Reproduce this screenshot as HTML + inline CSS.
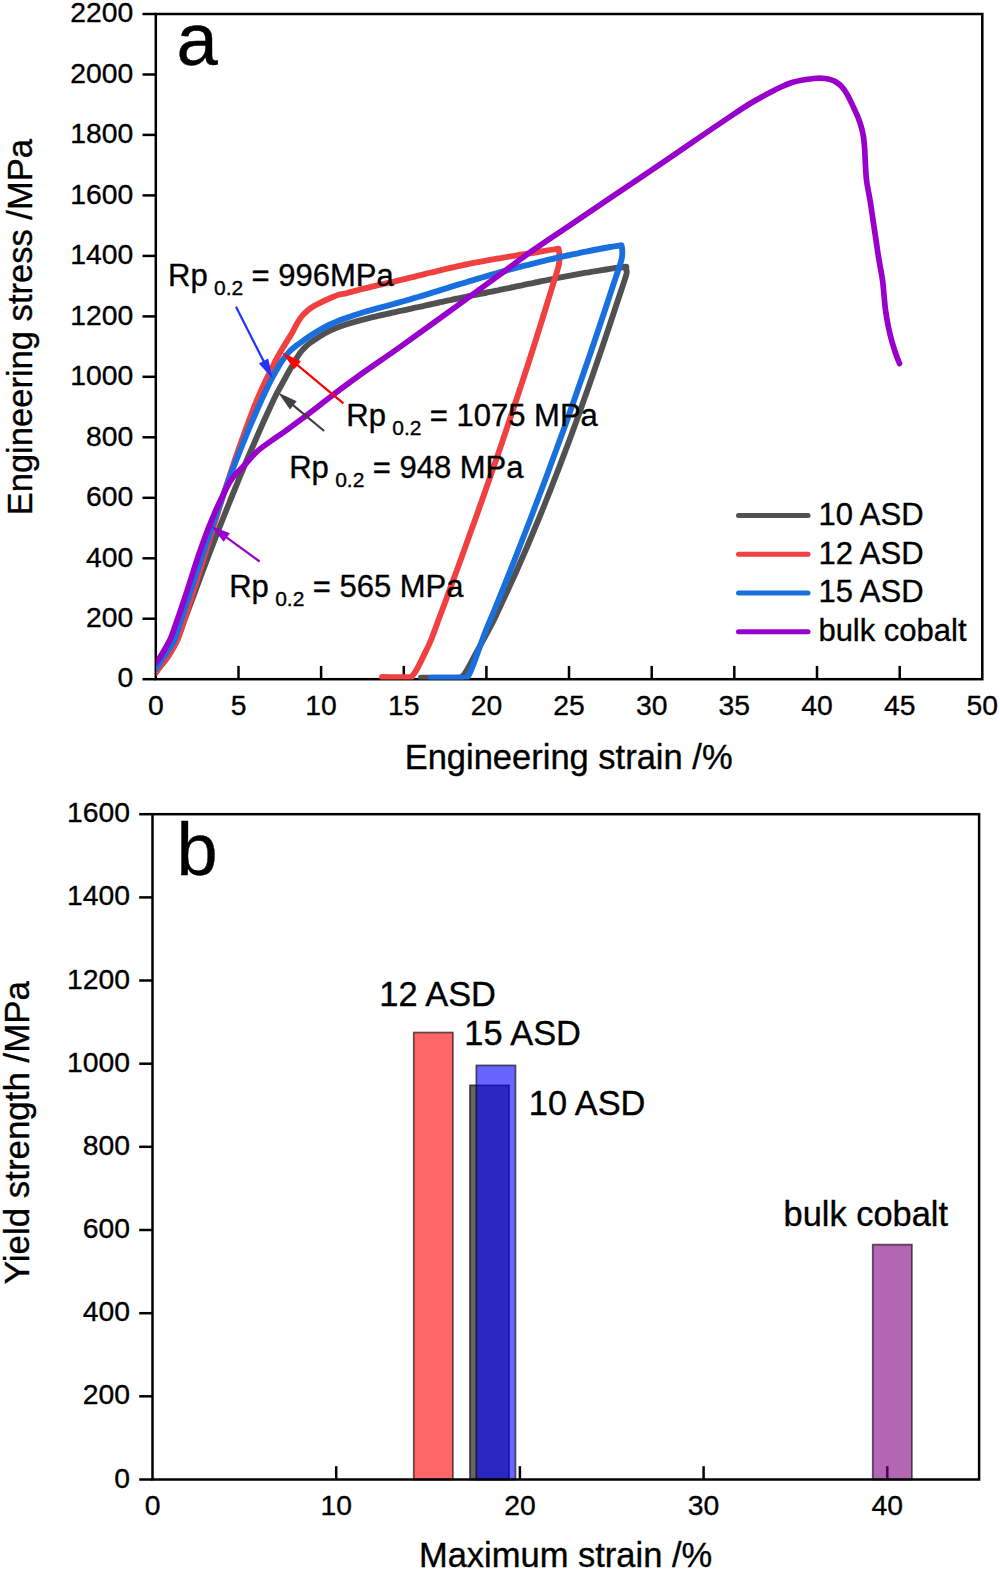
<!DOCTYPE html>
<html lang="en"><head><meta charset="utf-8"><title>Engineering stress-strain curves and yield strength</title>
<style>html,body{margin:0;padding:0;background:#fff}svg{display:block}text{font-family:"Liberation Sans", sans-serif;fill:#000;stroke:#000;stroke-width:0.35px;stroke-linejoin:round}</style>
</head><body>
<svg width="1000" height="1574" viewBox="0 0 1000 1574">
<rect width="1000" height="1574" fill="#fff"/>
<g id="panel-a">
<g stroke="#000" stroke-width="2.5" fill="none" stroke-linecap="butt">
<rect x="155.8" y="14" width="826.5" height="665.2"/>
<line x1="142.5" y1="679.2" x2="155.8" y2="679.2"/>
<line x1="142.5" y1="618.7" x2="155.8" y2="618.7"/>
<line x1="142.5" y1="558.3" x2="155.8" y2="558.3"/>
<line x1="142.5" y1="497.8" x2="155.8" y2="497.8"/>
<line x1="142.5" y1="437.3" x2="155.8" y2="437.3"/>
<line x1="142.5" y1="376.8" x2="155.8" y2="376.8"/>
<line x1="142.5" y1="316.4" x2="155.8" y2="316.4"/>
<line x1="142.5" y1="255.9" x2="155.8" y2="255.9"/>
<line x1="142.5" y1="195.4" x2="155.8" y2="195.4"/>
<line x1="142.5" y1="134.9" x2="155.8" y2="134.9"/>
<line x1="142.5" y1="74.5" x2="155.8" y2="74.5"/>
<line x1="142.5" y1="14" x2="155.8" y2="14"/>
<line x1="238.5" y1="679.2" x2="238.5" y2="665.9"/>
<line x1="321.1" y1="679.2" x2="321.1" y2="665.9"/>
<line x1="403.8" y1="679.2" x2="403.8" y2="665.9"/>
<line x1="486.4" y1="679.2" x2="486.4" y2="665.9"/>
<line x1="569" y1="679.2" x2="569" y2="665.9"/>
<line x1="651.7" y1="679.2" x2="651.7" y2="665.9"/>
<line x1="734.3" y1="679.2" x2="734.3" y2="665.9"/>
<line x1="817" y1="679.2" x2="817" y2="665.9"/>
<line x1="899.7" y1="679.2" x2="899.7" y2="665.9"/>
</g>
<clipPath id="clipA"><rect x="156.4" y="14" width="825.9" height="665.4"/></clipPath>
<g id="curves" clip-path="url(#clipA)">
<path d="M155.5 673 C156.4 671.8 158.9 668.2 161 665.5 C163.1 662.8 165.3 660.8 168 656.5 C170.7 652.2 174.8 645.2 177.2 640 C179.7 634.8 180.9 630 182.7 625 C184.5 620 186.4 615 188.2 610 C190.1 605 191.9 600 193.8 595 C195.6 590 197.5 585 199.4 580 C201.2 575 203.1 570 205 565 C206.9 560 208.8 555 210.7 550 C212.7 545 214.6 540 216.5 535 C218.5 530 220.4 525 222.4 520 C224.4 515 226.4 510 228.4 505 C230.4 500 232.4 495 234.5 490 C236.5 485 238.6 480 240.6 475 C242.7 470 244.8 465 246.9 460 C249.1 455 251.2 450 253.4 445 C255.5 440 257.7 435 259.9 430 C262.1 425 264 420.7 266.6 415 C269.2 409.3 272.9 401.2 275.5 396 C278.1 390.8 279.9 387.8 282 384 C284.1 380.2 286 376.6 288 373 C290 369.4 292.3 365.3 294 362.5 C295.7 359.7 296.7 358 298 356 C299.3 354 300.7 352.1 302 350.5 C303.3 348.9 304.7 347.6 306 346.3 C307.3 345.1 307.7 344.7 310 343 C312.3 341.3 316.7 338.3 320 336.2 C323.3 334.1 327 332.1 330 330.6 C333 329.1 335.3 328.2 338 327.2 C340.7 326.1 343.3 325.3 346 324.5 C348.7 323.6 351.3 322.8 354 322.1 C356.7 321.3 359.3 320.5 362 319.8 C364.7 319.1 367.3 318.5 370 317.8 C372.7 317.2 375.3 316.5 378 315.9 C380.7 315.3 383.3 314.7 386 314.1 C388.7 313.5 391.3 313 394 312.4 C396.7 311.8 399.3 311.2 402 310.7 C404.7 310.1 407.3 309.5 410 308.9 C412.7 308.3 415.3 307.7 418 307.2 C420.7 306.6 423.3 306 426 305.4 C428.7 304.8 431.3 304.2 434 303.6 C436.7 303 439.3 302.5 442 301.9 C444.7 301.3 447.3 300.7 450 300.2 C452.7 299.6 455.3 299 458 298.5 C460.7 297.9 463.3 297.4 466 296.8 C468.7 296.3 471.3 295.7 474 295.2 C476.7 294.7 479.3 294.1 482 293.6 C484.7 293 487.3 292.5 490 291.9 C492.7 291.4 495.3 290.8 498 290.3 C500.7 289.7 503.3 289.2 506 288.6 C508.7 288.1 511.3 287.5 514 287 C516.7 286.4 519.3 285.8 522 285.3 C524.7 284.7 527.3 284.2 530 283.6 C532.7 283.1 535.3 282.5 538 282 C540.7 281.4 543.3 280.9 546 280.4 C548.7 279.8 551.3 279.3 554 278.8 C556.7 278.2 559.3 277.7 562 277.2 C564.7 276.7 567.3 276.2 570 275.7 C572.7 275.2 575.3 274.7 578 274.2 C580.7 273.7 583.3 273.2 586 272.7 C588.7 272.3 591.3 271.8 594 271.4 C596.7 270.9 599.3 270.5 602 270.1 C604.7 269.7 607.3 269.3 610 268.9 C612.7 268.5 615.3 268 618 267.7 C620.7 267.3 624.8 266.9 626.2 266.7 M626.2 266.7 C626.2 267.2 626.3 268.6 626.3 270 C626.3 271.4 627.6 270 626.2 275 C624.8 280 620.7 291.7 618 300 C615.2 308.3 612.5 316.7 609.7 325 C606.9 333.3 604.1 341.7 601.3 350 C598.4 358.3 595.6 366.7 592.7 375 C589.8 383.3 586.9 391.7 583.9 400 C581 408.3 578 416.7 575 425 C571.9 433.3 568.9 441.7 565.7 450 C562.6 458.3 559.5 466.7 556.2 475 C553 483.3 549.7 491.7 546.4 500 C543.1 508.3 539.7 516.7 536.2 525 C532.8 533.3 529.3 541.7 525.7 550 C522.1 558.3 518.4 566.7 514.7 575 C510.9 583.3 507.1 591.7 503.2 600 C499.3 608.3 496.2 615.3 491.3 625 C486.3 634.7 477.5 650.5 473.5 658 C469.5 665.5 468.8 667 467 670 C465.2 673 464 675 462.5 676.3 C461 677.6 464.9 677.4 458 677.6 C451.1 677.8 427.2 677.6 421 677.6" fill="none" stroke="#515151" stroke-width="5.9" stroke-linejoin="round" stroke-linecap="round"/>
<path d="M155.5 673 C156.4 671.8 158.9 668.2 161 665.5 C163.1 662.8 165.3 660.8 168 656.5 C170.7 652.2 174.9 645.2 177.3 640 C179.7 634.8 180.8 630 182.4 625 C184.1 620 185.7 615 187.4 610 C189 605 190.6 600 192.2 595 C193.8 590 195.3 585 196.9 580 C198.5 575 200 570 201.6 565 C203.1 560 204.7 555 206.2 550 C207.8 545 209.3 540 210.8 535 C212.4 530 213.9 525 215.5 520 C217.1 515 218.6 510 220.2 505 C221.8 500 223.4 495 225 490 C226.6 485 228.2 480 229.9 475 C231.6 470 233.2 465 234.9 460 C236.6 455 238.4 450 240.1 445 C241.9 440 243.7 435 245.5 430 C247.3 425 249.2 420 251.1 415 C253 410 254.7 405.5 257 400 C259.3 394.5 262.7 387 265 382 C267.3 377 269 374 271 370 C273 366 274.8 362 277 358 C279.2 354 281.5 350.2 284 346 C286.5 341.8 289.8 336.8 292 333 C294.2 329.2 295.3 326.3 297 323.5 C298.7 320.7 300.2 318.2 302 316 C303.8 313.8 306 311.9 308 310.2 C310 308.5 312 307.2 314 306 C316 304.8 317.3 304.1 320 302.8 C322.7 301.5 327 299.6 330 298.3 C333 297 335.3 295.8 338 295 C340.7 294.2 343.3 293.9 346 293.3 C348.7 292.6 351.3 291.8 354 291.1 C356.7 290.4 359.3 289.7 362 289 C364.7 288.4 367.3 287.7 370 287.1 C372.7 286.5 375.3 285.8 378 285.2 C380.7 284.6 383.3 284 386 283.4 C388.7 282.8 391.3 282.2 394 281.6 C396.7 280.9 399.3 280.3 402 279.6 C404.7 279 407.3 278.4 410 277.7 C412.7 277.1 415.3 276.4 418 275.7 C420.7 275.1 423.3 274.4 426 273.7 C428.7 273.1 431.3 272.4 434 271.8 C436.7 271.1 439.3 270.5 442 269.8 C444.7 269.2 447.3 268.6 450 268 C452.7 267.4 455.3 266.8 458 266.2 C460.7 265.6 463.3 265.1 466 264.5 C468.7 264 471.3 263.4 474 262.9 C476.7 262.4 479.3 261.9 482 261.4 C484.7 260.9 487.3 260.4 490 259.9 C492.7 259.5 495.3 259 498 258.5 C500.7 258.1 503.3 257.6 506 257.2 C508.7 256.7 511.3 256.3 514 255.9 C516.7 255.4 519.3 255 522 254.5 C524.7 254.1 527.3 253.7 530 253.3 C532.7 252.8 535.3 252.4 538 252 C540.7 251.5 543.3 251.1 546 250.7 C548.7 250.2 551.9 249.7 554 249.4 C556.1 249 557.8 248.7 558.6 248.6 M558.6 248.6 C558.7 249.5 559.3 251.3 559.3 254 C559.3 256.7 560.1 259 558.8 265 C557.4 271 553.8 281.7 551.3 290 C548.8 298.3 546.2 306.7 543.6 315 C541 323.3 538.4 331.7 535.8 340 C533.1 348.3 530.5 356.7 527.8 365 C525.1 373.3 522.4 381.7 519.6 390 C516.9 398.3 514.1 406.7 511.3 415 C508.5 423.3 505.7 431.7 502.9 440 C500.1 448.3 497.2 456.7 494.3 465 C491.4 473.3 488.5 481.7 485.6 490 C482.7 498.3 479.7 506.7 476.8 515 C473.8 523.3 470.8 531.7 467.8 540 C464.8 548.3 461.8 556.7 458.8 565 C455.7 573.3 452.7 581.7 449.6 590 C446.5 598.3 443.5 606.7 440.3 615 C437.2 623.3 433.7 633.3 431 640 C428.3 646.7 426.3 650.2 424 655 C421.7 659.8 419.2 665.1 417.3 668.5 C415.4 671.9 414.2 673.8 412.8 675.3 C411.4 676.8 414.1 676.9 409 677.2 C403.9 677.5 386.5 677 382 677" fill="none" stroke="#F14040" stroke-width="5.9" stroke-linejoin="round" stroke-linecap="round"/>
<path d="M155.5 669.5 C156.2 668.3 158.2 665.2 160 662.5 C161.8 659.8 163.6 657.2 166 653.5 C168.4 649.8 172.1 644.8 174.3 640 C176.5 635.2 177.7 630 179.3 625 C181 620 182.7 615 184.3 610 C186 605 187.6 600 189.3 595 C190.9 590 192.6 585 194.2 580 C195.9 575 197.5 570 199.2 565 C200.8 560 202.5 555 204.2 550 C205.9 545 207.5 540 209.3 535 C211 530 212.7 525 214.4 520 C216.1 515 217.9 510 219.7 505 C221.4 500 223.2 495 225.1 490 C226.9 485 228.7 480 230.6 475 C232.5 470 234.4 465 236.3 460 C238.3 455 240.3 450 242.3 445 C244.3 440 246.3 435 248.4 430 C250.5 425 252.7 420 254.9 415 C257 410 259 405.5 261.5 400 C264.1 394.5 267.6 386.8 270 382 C272.4 377.2 274 374.5 276 371 C278 367.5 279.7 364.3 282 361 C284.3 357.7 287 354 290 351 C293 348 296.7 345.5 300 343 C303.3 340.5 306.7 338.2 310 336 C313.3 333.8 316.7 331.7 320 329.8 C323.3 327.9 327 326 330 324.5 C333 323 335.3 322 338 321 C340.7 319.9 343.3 319 346 318.1 C348.7 317.1 351.3 316.2 354 315.3 C356.7 314.4 359.3 313.6 362 312.7 C364.7 311.9 367.3 311.1 370 310.4 C372.7 309.6 375.3 308.9 378 308.2 C380.7 307.5 383.3 306.8 386 306.1 C388.7 305.3 391.3 304.6 394 303.9 C396.7 303.1 399.3 302.4 402 301.7 C404.7 300.9 407.3 300.1 410 299.4 C412.7 298.6 415.3 297.8 418 297 C420.7 296.2 423.3 295.4 426 294.6 C428.7 293.8 431.3 292.9 434 292.1 C436.7 291.3 439.3 290.5 442 289.6 C444.7 288.8 447.3 288 450 287.1 C452.7 286.3 455.3 285.5 458 284.7 C460.7 283.9 463.3 283.1 466 282.3 C468.7 281.4 471.3 280.6 474 279.8 C476.7 279 479.3 278.3 482 277.5 C484.7 276.7 487.3 275.9 490 275.1 C492.7 274.4 495.3 273.6 498 272.8 C500.7 272.1 503.3 271.3 506 270.6 C508.7 269.9 511.3 269.1 514 268.4 C516.7 267.7 519.3 267 522 266.3 C524.7 265.6 527.3 264.9 530 264.3 C532.7 263.6 535.3 263 538 262.3 C540.7 261.7 543.3 261 546 260.4 C548.7 259.8 551.3 259.1 554 258.5 C556.7 257.9 559.3 257.3 562 256.7 C564.7 256.1 567.3 255.5 570 255 C572.7 254.4 575.3 253.8 578 253.3 C580.7 252.7 583.3 252.2 586 251.6 C588.7 251.1 591.3 250.6 594 250 C596.7 249.5 599.3 249 602 248.5 C604.7 248 606.8 247.6 610 247 C613.2 246.4 619.5 245.5 621.4 245.2 M621.4 245.2 C621.5 246 622.2 247.5 622.2 250 C622.2 252.5 622.8 254.2 621.4 260 C619.9 265.8 616 276.7 613.2 285 C610.5 293.3 607.8 301.7 605 310 C602.2 318.3 599.4 326.7 596.6 335 C593.8 343.3 591 351.7 588.1 360 C585.2 368.3 582.3 376.7 579.4 385 C576.5 393.3 573.6 401.7 570.6 410 C567.7 418.3 564.7 426.7 561.7 435 C558.6 443.3 555.6 451.7 552.5 460 C549.5 468.3 546.4 476.7 543.3 485 C540.1 493.3 537 501.7 533.8 510 C530.7 518.3 527.5 526.7 524.2 535 C521 543.3 517.7 551.7 514.5 560 C511.2 568.3 507.9 576.7 504.5 585 C501.2 593.3 497.8 601.7 494.4 610 C491 618.3 487.9 625.3 484.1 635 C480.4 644.7 474.9 660.9 472 668 C469.1 675.1 468.8 676 467 677.6 C465.2 679.2 467 677.8 461 677.8 C455 677.8 436 677.8 431 677.8" fill="none" stroke="#1A6FDF" stroke-width="5.9" stroke-linejoin="round" stroke-linecap="round"/>
<path d="M155.5 663.5 C156.2 662.6 157.1 661.9 159.5 658 C161.9 654.1 167.2 645.3 169.8 640 C172.4 634.7 173.4 630.7 175.1 626 C176.8 621.3 178.4 616.7 180 612 C181.6 607.3 183.1 602.7 184.7 598 C186.2 593.3 187.7 588.7 189.2 584 C190.7 579.3 192.2 574.7 193.7 570 C195.2 565.3 196.7 560.7 198.3 556 C199.9 551.3 201.5 546.7 203.2 542 C204.9 537.3 206.6 532.7 208.4 528 C210.3 523.3 212.2 518.7 214.2 514 C216.2 509.3 217.7 505.7 220.6 500 C223.4 494.3 227.4 485.3 231.3 479.6 C235.2 473.9 239.7 470.3 244 465.6 C248.3 460.9 252.7 455.5 257.2 451.4 C261.7 447.3 266.3 444.4 271 441 C275.7 437.6 280.3 434.7 285.5 431 C290.7 427.3 296.2 423 302 418.7 C307.8 414.4 315.3 408.6 320 405 C324.7 401.4 323.7 402 330 397.2 C336.3 392.4 346.3 384.8 358 376.4 C369.7 368 384.7 357.9 400 347 C415.3 336.1 433.3 323.1 450 311 C466.7 298.9 486.5 284.4 500 274.5 C513.5 264.6 519 260.1 531 251.7 C543 243.2 557.2 233.9 572 223.8 C586.8 213.7 603.7 202.3 620 191.3 C636.3 180.3 656.7 166.7 670 157.6 C683.3 148.5 689.6 144.1 700 137 C710.4 129.9 724 120.7 732.5 115 C741 109.3 744.8 106.8 751 103 C757.2 99.2 765 95.2 770 92.5 C775 89.8 777.3 88.7 781 87 C784.7 85.3 788.3 83.7 792 82.5 C795.7 81.3 799.3 80.7 803 80 C806.7 79.3 811.2 78.8 814 78.5 C816.8 78.2 817.7 78.2 819.5 78.2 C821.3 78.2 823.2 78.3 825 78.5 C826.8 78.7 828.7 79 830.5 79.6 C832.3 80.2 834.2 80.9 836 82 C837.8 83.1 839.7 84.4 841.5 86.4 C843.3 88.4 845.2 91 847 94.1 C848.8 97.2 850.7 101.2 852.5 105.1 C854.3 108.9 856.5 113.5 858 117.2 C859.5 120.9 860.4 123.8 861.3 127.1 C862.2 130.4 863 133.5 863.5 137 C864 140.5 864.3 144.2 864.6 148 C864.9 151.8 864.9 154.7 865.2 160 C865.5 165.3 865.7 173.3 866.5 180 C867.3 186.7 868.9 193.3 870 200 C871.1 206.7 872 213.3 873 220 C874 226.7 875 233.3 876 240 C877 246.7 877.9 253.3 879 260 C880.1 266.7 881.7 274.2 882.5 280 C883.3 285.8 883.5 290 884 295 C884.5 300 884.8 305 885.5 310 C886.2 315 887 320 888 325 C889 330 890.2 335.3 891.5 340 C892.8 344.7 894.2 349.1 895.5 353 C896.8 356.9 898.8 361.8 899.5 363.5" fill="none" stroke="#9900CC" stroke-width="5.7" stroke-linejoin="round" stroke-linecap="round"/>
</g>
<g font-size="28.3" text-anchor="end">
<text x="133.3" y="687.4">0</text>
<text x="133.3" y="626.9">200</text>
<text x="133.3" y="566.5">400</text>
<text x="133.3" y="506">600</text>
<text x="133.3" y="445.5">800</text>
<text x="133.3" y="385">1000</text>
<text x="133.3" y="324.6">1200</text>
<text x="133.3" y="264.1">1400</text>
<text x="133.3" y="203.6">1600</text>
<text x="133.3" y="143.1">1800</text>
<text x="133.3" y="82.7">2000</text>
<text x="133.3" y="22.2">2200</text>
</g>
<g font-size="28.3" text-anchor="middle">
<text x="155.8" y="715.2">0</text>
<text x="238.5" y="715.2">5</text>
<text x="321.1" y="715.2">10</text>
<text x="403.8" y="715.2">15</text>
<text x="486.4" y="715.2">20</text>
<text x="569" y="715.2">25</text>
<text x="651.7" y="715.2">30</text>
<text x="734.3" y="715.2">35</text>
<text x="817" y="715.2">40</text>
<text x="899.7" y="715.2">45</text>
<text x="982.3" y="715.2">50</text>
</g>
<text x="568.6" y="768.5" font-size="34.5" text-anchor="middle">Engineering strain /%</text>
<text transform="translate(32,327.2) rotate(-90)" font-size="34.55" text-anchor="middle">Engineering stress /MPa</text>
<text x="176.5" y="64.8" font-size="74.3">a</text>
<line x1="236" y1="306.8" x2="264.4" y2="362.8" stroke="#2233FF" stroke-width="2.2"/>
<polygon points="272.6,378.8 258.9,363.4 268.2,358.6" fill="#2233FF"/>
<line x1="343.4" y1="403.4" x2="296" y2="363.9" stroke="#FF0000" stroke-width="2.2"/>
<polygon points="282.2,352.4 300.9,361.2 294.2,369.2" fill="#FF0000"/>
<line x1="324.2" y1="431" x2="291.8" y2="404.1" stroke="#404040" stroke-width="2.2"/>
<polygon points="278,392.6 296.7,401.3 290,409.4" fill="#404040"/>
<line x1="259.6" y1="561.5" x2="225.1" y2="536.4" stroke="#9900CC" stroke-width="2.2"/>
<polygon points="210.6,525.8 229.9,533.3 223.7,541.8" fill="#9900CC"/>
<text y="286.2" font-size="31"><tspan x="168">Rp</tspan><tspan x="214" dy="9" font-size="21">0.2</tspan><tspan x="251.5" dy="-9">= 996MPa</tspan></text>
<text y="425.7" font-size="31"><tspan x="346.3">Rp</tspan><tspan x="392.3" dy="9" font-size="21">0.2</tspan><tspan x="429.8" dy="-9">= 1075 MPa</tspan></text>
<text y="478.2" font-size="31"><tspan x="289.2">Rp</tspan><tspan x="335.2" dy="9" font-size="21">0.2</tspan><tspan x="372.7" dy="-9">= 948 MPa</tspan></text>
<text y="597.4" font-size="31"><tspan x="229.2">Rp</tspan><tspan x="275.2" dy="9" font-size="21">0.2</tspan><tspan x="312.7" dy="-9">= 565 MPa</tspan></text>
<g stroke-width="5" stroke-linecap="round">
<line x1="738.5" y1="515.4" x2="808" y2="515.4" stroke="#515151"/>
<line x1="738.5" y1="554.3" x2="808" y2="554.3" stroke="#F14040"/>
<line x1="738.5" y1="592.9" x2="808" y2="592.9" stroke="#1A6FDF"/>
<line x1="738.5" y1="631.8" x2="808" y2="631.8" stroke="#9900CC"/>
</g>
<g font-size="31">
<text x="818.4" y="525.1">10 ASD</text>
<text x="818.4" y="563.7">12 ASD</text>
<text x="818.4" y="602.4">15 ASD</text>
<text x="818.4" y="641.3">bulk cobalt</text>
</g>
</g>
<g id="panel-b">
<g stroke="#000" stroke-width="2.5" fill="none">
<line x1="336.2" y1="1479.5" x2="336.2" y2="1466.2"/>
<line x1="519.9" y1="1479.5" x2="519.9" y2="1466.2"/>
<line x1="703.6" y1="1479.5" x2="703.6" y2="1466.2"/>
<line x1="887.3" y1="1479.5" x2="887.3" y2="1466.2"/>
</g>
<rect x="413.7" y="1032.5" width="39.2" height="447" fill="#FF0000" fill-opacity="0.6" stroke="#000" stroke-opacity="0.62" stroke-width="1.7"/>
<rect x="469.9" y="1085.3" width="39.2" height="394.2" fill="#000000" fill-opacity="0.6" stroke="#000" stroke-opacity="0.62" stroke-width="1.7"/>
<rect x="476.3" y="1065.4" width="39.2" height="414.1" fill="#0000FF" fill-opacity="0.6" stroke="#000" stroke-opacity="0.62" stroke-width="1.7"/>
<rect x="872.7" y="1244.6" width="39.2" height="234.9" fill="#800080" fill-opacity="0.6" stroke="#000" stroke-opacity="0.62" stroke-width="1.7"/>
<g stroke="#000" stroke-width="2.5" fill="none">
<rect x="152.5" y="814.2" width="826.6" height="665.3"/>
<line x1="139.2" y1="1479.5" x2="152.5" y2="1479.5"/>
<line x1="139.2" y1="1396.3" x2="152.5" y2="1396.3"/>
<line x1="139.2" y1="1313.2" x2="152.5" y2="1313.2"/>
<line x1="139.2" y1="1230" x2="152.5" y2="1230"/>
<line x1="139.2" y1="1146.8" x2="152.5" y2="1146.8"/>
<line x1="139.2" y1="1063.7" x2="152.5" y2="1063.7"/>
<line x1="139.2" y1="980.5" x2="152.5" y2="980.5"/>
<line x1="139.2" y1="897.4" x2="152.5" y2="897.4"/>
<line x1="139.2" y1="814.2" x2="152.5" y2="814.2"/>
</g>
<g font-size="28.3" text-anchor="end">
<text x="129.9" y="1487.5">0</text>
<text x="129.9" y="1404.3">200</text>
<text x="129.9" y="1321.2">400</text>
<text x="129.9" y="1238">600</text>
<text x="129.9" y="1154.8">800</text>
<text x="129.9" y="1071.7">1000</text>
<text x="129.9" y="988.5">1200</text>
<text x="129.9" y="905.4">1400</text>
<text x="129.9" y="822.2">1600</text>
</g>
<g font-size="28.3" text-anchor="middle">
<text x="152.5" y="1515.4">0</text>
<text x="336.2" y="1515.4">10</text>
<text x="519.9" y="1515.4">20</text>
<text x="703.6" y="1515.4">30</text>
<text x="887.3" y="1515.4">40</text>
</g>
<text x="565.6" y="1566.8" font-size="34.5" text-anchor="middle">Maximum strain /%</text>
<text transform="translate(28.5,1132.6) rotate(-90)" font-size="34.9" text-anchor="middle">Yield strength /MPa</text>
<text x="176.6" y="875.2" font-size="74">b</text>
<g font-size="34.4">
<text x="379.3" y="1006.2">12 ASD</text>
<text x="464.3" y="1044.8">15 ASD</text>
<text x="528.8" y="1115.2">10 ASD</text>
<text x="783.6" y="1226.3">bulk cobalt</text>
</g>
</g>
</svg>
</body></html>
